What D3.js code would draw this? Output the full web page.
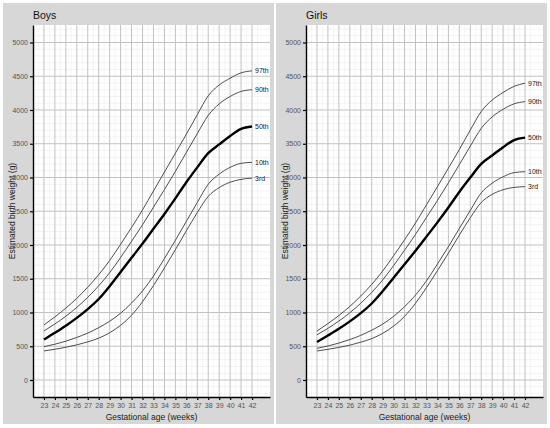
<!DOCTYPE html>
<html>
<head>
<meta charset="utf-8">
<script src="https://cdn.jsdelivr.net/npm/d3@7"></script>
<style>
  body { margin: 0; background: #fff; }
  svg { display: block; font-family: "Liberation Sans", Arial, sans-serif; }
</style>
</head>
<body>
<svg id="chart" width="550" height="428"></svg>
<script>
// gestational weeks on the x axis
var weeks = [23,24,25,26,27,28,29,30,31,32,33,34,35,36,37,38,39,40,41,42];
var percentiles = ["3rd","10th","50th","90th","97th"];
var yTicks = [0,500,1000,1500,2000,2500,3000,3500,4000,4500,5000];

// boys, estimated birth weight (g)
var boysP3  = [430,455,485,520,565,620,700,810,960,1160,1400,1660,1930,2210,2480,2720,2850,2930,2972,2990];
var boysP10 = [494,530,575,630,695,775,870,990,1140,1320,1540,1800,2070,2350,2630,2900,3050,3150,3210,3225];
var boysP50 = [600,700,805,920,1050,1200,1390,1600,1810,2020,2240,2460,2690,2930,3150,3360,3490,3615,3720,3755];
var boysP90 = [726,830,945,1075,1225,1395,1590,1815,2055,2300,2560,2820,3090,3370,3650,3920,4090,4200,4275,4300];
var boysP97 = [815,935,1065,1210,1375,1560,1770,2010,2260,2520,2800,3080,3360,3640,3930,4210,4370,4470,4550,4580];

// girls, estimated birth weight (g)
var girlsP3  = [430,454,483,516,560,613,691,798,943,1137,1369,1620,1878,2146,2403,2630,2750,2819,2853,2864];
var girlsP10 = [469,504,547,599,661,738,828,943,1086,1258,1469,1717,1975,2244,2512,2772,2916,3011,3072,3086];
var girlsP50 = [564,659,758,868,990,1133,1314,1514,1714,1915,2124,2335,2556,2786,2999,3202,3326,3449,3553,3590];
var girlsP90 = [668,765,873,995,1137,1297,1482,1695,1923,2157,2409,2659,2920,3191,3464,3728,3898,4011,4091,4124];
var girlsP97 = [725,836,955,1090,1244,1416,1614,1841,2077,2326,2596,2864,3138,3414,3702,3978,4147,4260,4350,4397];

var panels = [
    {title: "Boys",  series: [boysP3, boysP10, boysP50, boysP90, boysP97], dx: 0},
    {title: "Girls", series: [girlsP3, girlsP10, girlsP50, girlsP90, girlsP97], dx: 273}
];

var svg = d3.select("#chart");

var x = d3.scaleLinear().domain([22, 43.64]).range([33, 270]);
var y = d3.scaleLinear().domain([-252, 5259]).range([397, 25]);

var line = d3.line()
    .x(function(d){ return x(d[0]); })
    .y(function(d){ return y(d[1]); })
    .curve(d3.curveMonotoneX);

panels.forEach(function(p){
    var g = svg.append("g").attr("transform", "translate(" + p.dx + ",0)");

    // grey panel background
    g.append("rect")
        .attr("x", 3).attr("y", 3)
        .attr("width", 271).attr("height", 421)
        .attr("fill", "#d7d7d7");

    // plot area
    g.append("rect")
        .attr("x", x.range()[0]).attr("y", y.range()[1])
        .attr("width", x.range()[1] - x.range()[0])
        .attr("height", y.range()[0] - y.range()[1])
        .attr("fill", "#ffffff");

    // minor horizontal grid every 100 g
    var minorY = d3.range(-200, 5300, 100).filter(function(v){ return v % 500 !== 0; });
    g.selectAll("line.minorY").data(minorY).enter().append("line")
        .attr("x1", x.range()[0]).attr("x2", x.range()[1])
        .attr("y1", function(d){ return y(d); }).attr("y2", function(d){ return y(d); })
        .attr("stroke", "#ebebeb").attr("stroke-width", 0.6);

    // minor vertical grid at half weeks
    var minorX = d3.range(22.5, 43, 1);
    g.selectAll("line.minorX").data(minorX).enter().append("line")
        .attr("y1", y.range()[0]).attr("y2", y.range()[1])
        .attr("x1", function(d){ return x(d); }).attr("x2", function(d){ return x(d); })
        .attr("stroke", "#efefef").attr("stroke-width", 0.6);

    // major grid
    g.selectAll("line.majorY").data(yTicks).enter().append("line")
        .attr("x1", x.range()[0]).attr("x2", x.range()[1])
        .attr("y1", function(d){ return y(d); }).attr("y2", function(d){ return y(d); })
        .attr("stroke", "#c2c2c2").attr("stroke-width", 1);
    g.selectAll("line.majorX").data(weeks).enter().append("line")
        .attr("y1", y.range()[0]).attr("y2", y.range()[1])
        .attr("x1", function(d){ return x(d); }).attr("x2", function(d){ return x(d); })
        .attr("stroke", "#c2c2c2").attr("stroke-width", 1);

    // percentile curves
    p.series.forEach(function(s, i){
        var pts = weeks.map(function(w, j){ return [w, s[j]]; });
        var is50 = percentiles[i] === "50th";
        g.append("path")
            .attr("d", line(pts))
            .attr("fill", "none")
            .attr("stroke", is50 ? "#000" : "#3a3a3a")
            .attr("stroke-width", is50 ? 2.4 : 0.9);
        g.append("text")
            .attr("x", x(42) + 3)
            .attr("y", y(s[s.length - 1]) + 2.5)
            .attr("font-size", 7)
            .attr("fill", "#222")
            .text(percentiles[i]);
    });

    // axes
    var ya = g.append("g")
        .attr("transform", "translate(" + x.range()[0] + ",0)")
        .call(d3.axisLeft(y).tickValues(yTicks).tickFormat(d3.format("d"))
            .tickSize(3).tickSizeOuter(0).tickPadding(2));
    var xa = g.append("g")
        .attr("transform", "translate(0," + y.range()[0] + ")")
        .call(d3.axisBottom(x).tickValues(weeks).tickSize(3).tickSizeOuter(0).tickPadding(3));
    [ya, xa].forEach(function(a){
        a.select(".domain").attr("stroke", "#000").attr("stroke-width", 1.4);
        a.selectAll(".tick line").attr("stroke", "#000").attr("stroke-width", 1.2);
        a.selectAll(".tick text").attr("fill", "#555").attr("font-size", 7)
            .attr("font-family", "Liberation Sans, Arial, sans-serif");
    });

    // titles
    g.append("text")
        .attr("x", 33).attr("y", 19)
        .attr("font-size", 10.5).attr("fill", "#111")
        .text(p.title);
    g.append("text")
        .attr("x", (x.range()[0] + x.range()[1]) / 2).attr("y", 420)
        .attr("text-anchor", "middle")
        .attr("font-size", 8.5).attr("fill", "#222")
        .text("Gestational age (weeks)");
    g.append("text")
        .attr("transform", "translate(15," + (y.range()[0] + y.range()[1]) / 2 + ") rotate(-90)")
        .attr("text-anchor", "middle")
        .attr("font-size", 8.5).attr("fill", "#222")
        .text("Estimated birth weight (g)");
});
</script>
</body>
</html>
